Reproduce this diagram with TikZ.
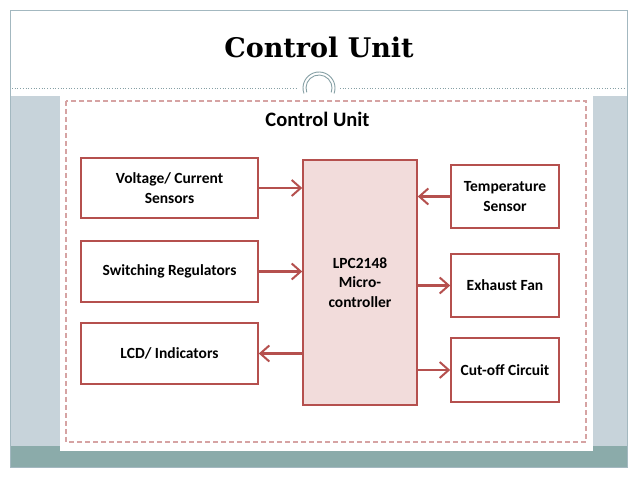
\documentclass[tikz,border=0pt]{standalone}
\usepackage{fontspec}
\setmainfont{Carlito}
\newfontfamily\titlefont{DejaVu Serif}
\usetikzlibrary{arrows.meta}
\definecolor{boxred}{HTML}{B5504E}
\definecolor{mcufill}{HTML}{F2DCDB}
\definecolor{dashpink}{HTML}{D6A3A3}
\definecolor{bandgrey}{HTML}{C7D3DA}
\definecolor{bandteal}{HTML}{8BABAA}
\definecolor{framegrey}{HTML}{A3B8C0}
\definecolor{ornament}{HTML}{86A0A5}
\tikzset{
  blk/.style={draw=boxred, line width=1.6pt, fill=white, align=center,
    inner sep=0pt, font=\bfseries\fontsize{15.5}{19.5}\selectfont},
  lblk/.style={blk, minimum width=177pt},
  rblk/.style={blk, minimum width=108pt},
  arr/.style={draw=boxred, line width=2.2pt,
    -{Straight Barb[length=9pt,width=16pt,line width=2pt]}}
}
\begin{document}
\begin{tikzpicture}[x=1pt,y=-1pt]
\useasboundingbox (0,0) rectangle (638,478);
\fill[white] (0,0) rectangle (638,478);
% slide frame and bands
\fill[bandgrey] (10,96) rectangle (627,446);
\fill[bandteal] (10,446) rectangle (627,467);
\draw[framegrey, line width=0.8pt] (10,10) rectangle (627,467);
\fill[white] (60,96) rectangle (593,451);
% dotted rule and ornament
\draw[ornament, line width=0.7pt, dotted] (12,88) -- (298,88);
\draw[ornament, line width=0.7pt, dotted] (340,88) -- (626,88);
\draw[ornament, line width=0.9pt] (319,88) ++(160:16) arc[start angle=160, end angle=380, radius=16];
\draw[ornament, line width=0.9pt] (319,88) ++(160:13) arc[start angle=160, end angle=380, radius=13];
% title
\node[anchor=base, font=\titlefont\bfseries\fontsize{27}{30}\selectfont] (title) at (319,58) {Control Unit};
% dashed panel
\draw[dashpink, line width=1.2pt, dash pattern=on 5pt off 3pt] (66,101) rectangle (586,442);
\node[anchor=base, font=\bfseries\fontsize{20.5}{22}\selectfont] (inner) at (317.5,127) {Control Unit};
% blocks
\node[lblk, minimum height=60pt] (volt) at (169.5,188) {Voltage/ Current\\Sensors};
\node[lblk, minimum height=61pt] (sw) at (169.5,271.5) {Switching Regulators};
\node[lblk, minimum height=61pt] (lcd) at (169.5,353.5) {LCD/ Indicators};
\node[blk, fill=mcufill, minimum width=114pt, minimum height=245pt] (mcu) at (360,282.5) {LPC2148\\Micro-\\controller};
\node[rblk, minimum height=63pt] (temp) at (505,196.5) {Temperature\\Sensor};
\node[rblk, minimum height=63pt] (fan) at (505,285.5) {Exhaust Fan};
\node[rblk, minimum height=64pt] (cut) at (505,370) {Cut-off Circuit};
% connectors
\draw[arr] (volt.east) -- (volt.east -| mcu.west);
\draw[arr] (sw.east) -- (sw.east -| mcu.west);
\draw[arr] (lcd.east -| mcu.west) -- (lcd.east);
\draw[arr] (temp.west) -- (temp.west -| mcu.east);
\draw[arr] (fan.west -| mcu.east) -- (fan.west);
\draw[arr] (cut.west -| mcu.east) -- (cut.west);
\end{tikzpicture}
\end{document}
